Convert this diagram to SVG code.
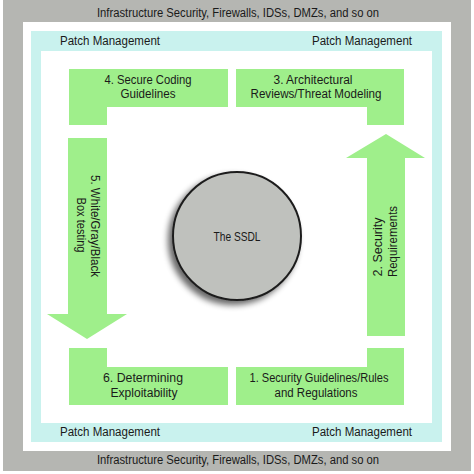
<svg xmlns="http://www.w3.org/2000/svg" width="474" height="474" viewBox="0 0 474 474">
<style>
text{font-family:"Liberation Sans",Arial,sans-serif;font-size:12px;fill:#1a1a1a;text-anchor:middle}
.g{fill:#9fef8b}
</style>
<defs>
<filter id="sh" x="-30%" y="-30%" width="160%" height="160%">
<feGaussianBlur in="SourceAlpha" stdDeviation="3"/>
<feOffset dx="-4" dy="4" result="b"/>
<feComponentTransfer><feFuncA type="linear" slope="0.6"/></feComponentTransfer>
<feMerge><feMergeNode/><feMergeNode in="SourceGraphic"/></feMerge>
</filter>
</defs>
<rect x="0" y="0" width="474" height="474" fill="#ffffff"/>
<rect x="3" y="0" width="468" height="471" fill="#b5b6b2"/>
<rect x="23" y="22" width="428" height="429" fill="#ffffff"/>
<rect x="31" y="31" width="411" height="411" fill="#c9f2ee"/>
<rect x="41" y="51" width="391" height="372" fill="#ffffff"/>
<g id="labels">
<text x="238" y="17" textLength="282" lengthAdjust="spacingAndGlyphs">Infrastructure Security, Firewalls, IDSs, DMZs, and so on</text>
<text x="238" y="464" textLength="282" lengthAdjust="spacingAndGlyphs">Infrastructure Security, Firewalls, IDSs, DMZs, and so on</text>
<text x="110" y="45" textLength="100" lengthAdjust="spacingAndGlyphs">Patch Management</text>
<text x="362" y="45" textLength="100" lengthAdjust="spacingAndGlyphs">Patch Management</text>
<text x="110" y="436" textLength="100" lengthAdjust="spacingAndGlyphs">Patch Management</text>
<text x="362" y="436" textLength="100" lengthAdjust="spacingAndGlyphs">Patch Management</text>
</g>
<g id="step4">
<path class="g" d="M69,69 H228 V107 H107 V125 H69 Z"/>
<text x="148" y="84" textLength="87" lengthAdjust="spacingAndGlyphs">4. Secure Coding</text>
<text x="148" y="98" textLength="55" lengthAdjust="spacingAndGlyphs">Guidelines</text>
</g>
<g id="step3">
<path class="g" d="M236,69 H404 V125 H367 V107 H236 Z"/>
<text x="313" y="84" textLength="79" lengthAdjust="spacingAndGlyphs">3. Architectural</text>
<text x="316" y="98" textLength="131" lengthAdjust="spacingAndGlyphs">Reviews/Threat Modeling</text>
</g>
<g id="step6">
<path class="g" d="M69,348 H107 V367 H228 V405 H69 Z"/>
<text x="143" y="382" textLength="80" lengthAdjust="spacingAndGlyphs">6. Determining</text>
<text x="144" y="397" textLength="67" lengthAdjust="spacingAndGlyphs">Exploitability</text>
</g>
<g id="step1">
<path class="g" d="M367,348 H404 V405 H236 V367 H367 Z"/>
<text x="319" y="382" textLength="139" lengthAdjust="spacingAndGlyphs">1. Security Guidelines/Rules</text>
<text x="316" y="397" textLength="83" lengthAdjust="spacingAndGlyphs">and Regulations</text>
</g>
<g id="connectors">
<g id="step5">
<path class="g" d="M68,138 H107 V314 H127 L87,339 L47,314 H68 Z"/>
<g transform="translate(88,226) rotate(90)">
<text x="0" y="-3" textLength="102" lengthAdjust="spacingAndGlyphs">5. White/Gray/Black</text>
<text x="-1" y="11" textLength="55" lengthAdjust="spacingAndGlyphs">Box testing</text>
</g>
</g>
<g id="step2">
<path class="g" d="M367,336 V158 H346 L386,134 L425,158 H405 V336 Z"/>
<g transform="translate(387,245) rotate(-90)">
<text x="-2" y="-5" textLength="59" lengthAdjust="spacingAndGlyphs">2. Security</text>
<text x="3.5" y="10" textLength="71" lengthAdjust="spacingAndGlyphs">Requirements</text>
</g>
</g>
</g>
<g id="ssdl">
<circle cx="237" cy="236" r="64" fill="#bfc1bd" stroke="#1e1e1e" stroke-width="2" filter="url(#sh)"/>
<text x="237" y="241" textLength="47" lengthAdjust="spacingAndGlyphs">The SSDL</text>
</g>
</svg>
